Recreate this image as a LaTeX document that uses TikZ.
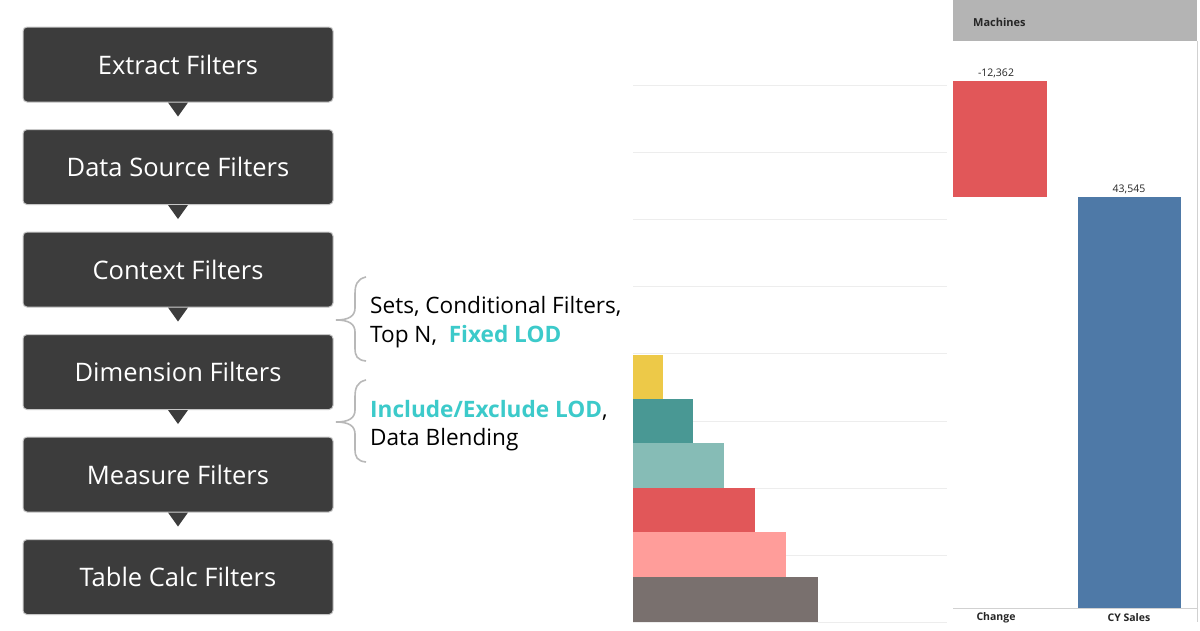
\documentclass[tikz,border=0pt]{standalone}
\usepackage{fontspec}
\setmainfont{Open Sans}
\usetikzlibrary{positioning}

\definecolor{boxgray}{HTML}{3C3C3C}
\definecolor{lodcyan}{HTML}{3CCACA}
\definecolor{gridgray}{HTML}{EDEDED}
\definecolor{tyellow}{HTML}{EDC948}
\definecolor{tteal}{HTML}{499894}
\definecolor{tlteal}{HTML}{86BCB6}
\definecolor{tred}{HTML}{E15759}
\definecolor{tpink}{HTML}{FF9D9A}
\definecolor{tbrown}{HTML}{79706E}
\definecolor{tblue}{HTML}{4E79A7}
\definecolor{headgray}{HTML}{B4B4B4}

\tikzset{
  filterbox/.style={fill=boxgray, draw=black!22, line width=1pt, rounded corners=4pt,
    minimum width=310pt, minimum height=75pt, text=white,
    font=\fontsize{25.5}{30}\selectfont},
  pointer/.style={fill=boxgray},
  bracket/.style={draw=black!28, line width=1.6pt},
  note/.style={anchor=base west, inner sep=0pt, font=\fontsize{22.6}{28}\selectfont},
  gridline/.style={draw=gridgray, line width=0.8pt},
  axisline/.style={draw=black!18, line width=0.8pt},
  small/.style={inner sep=0pt, font=\fontsize{10.5}{12}\selectfont, text=black!85}
}

\begin{document}
\begin{tikzpicture}[x=1pt, y=-1pt]
  \useasboundingbox (0,0) rectangle (1200,630);
  \fill[white] (0,0) rectangle (1200,630);

  \node[filterbox] (extract) at (178,64.5) {Extract Filters};
  \node[filterbox, below=26.5pt of extract] (source) {Data Source Filters};
  \node[filterbox, below=26.5pt of source] (context) {Context Filters};
  \node[filterbox, below=26.5pt of context] (dimension) {Dimension Filters};
  \node[filterbox, below=26.5pt of dimension] (measure) {Measure Filters};
  \node[filterbox, below=26.5pt of measure] (tablecalc) {Table Calc Filters};

  \foreach \b in {extract,source,context,dimension,measure}
    \fill[pointer] ([xshift=-10pt]\b.south) -- ([xshift=10pt]\b.south)
      -- ([yshift=-14pt]\b.south) -- cycle;

  \draw[bracket] (366,277) .. controls (357,279) and (355,285) .. (355,294)
    -- (355,308) .. controls (355,316) and (349,320) .. (336,320)
    .. controls (349,320) and (355,324) .. (355,332)
    -- (355,348) .. controls (355,356) and (357,360) .. (366,361);
  \draw[bracket, shift={(0,102)}] (366,278) .. controls (357,280) and (355,286) .. (355,295)
    -- (355,308) .. controls (355,316) and (349,320) .. (336,320)
    .. controls (349,320) and (355,324) .. (355,332)
    -- (355,347) .. controls (355,355) and (357,359) .. (366,360);

  \node[note] (sets) at (370,313) {Sets, Conditional Filters,};
  \node[note] (topn) at (370,342) {Top N,\ \ \textcolor{lodcyan}{\bfseries Fixed LOD}};
  \node[note] (include) at (370,417) {\textcolor{lodcyan}{\bfseries Include/Exclude LOD},};
  \node[note] (blend) at (370,445) {Data Blending};

  \foreach \y in {85,152,219,286,353,421,488,555,622}
    \draw[gridline] (633,\y) -- (947,\y);
  \fill[tyellow] (633,355) rectangle (663,399);
  \fill[tteal] (633,399) rectangle (693,443);
  \fill[tlteal] (633,443) rectangle (724,488);
  \fill[tred] (633,488) rectangle (755,532);
  \fill[tpink] (633,532) rectangle (786,577);
  \fill[tbrown] (633,577) rectangle (818,622);

  \fill[headgray] (953,0) rectangle (1197,41);
  \node[small, anchor=west, font=\fontsize{11}{13}\selectfont\bfseries] (machines) at (973,22) {Machines};
  \draw[axisline] (1197,41) -- (1197,622);
  \draw[axisline] (953,608) -- (1197,608);
  \fill[tred] (953,81) rectangle (1047,197);
  \fill[tblue] (1078,197) rectangle (1181,608);
  \node[small, anchor=south] (change val) at (996,78) {-12,362};
  \node[small, anchor=south] (sales val) at (1129,194) {43,545};
  \node[small, font=\fontsize{10.5}{12}\selectfont\bfseries] (change) at (996,618) {Change};
  \node[small, font=\fontsize{10.5}{12}\selectfont\bfseries] (sales) at (1129,618) {CY Sales};
\end{tikzpicture}
\end{document}
